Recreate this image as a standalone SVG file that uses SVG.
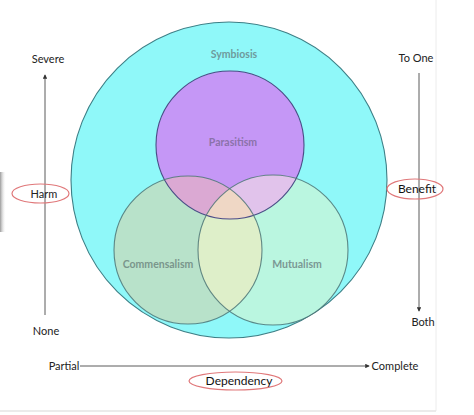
<svg xmlns="http://www.w3.org/2000/svg" width="474" height="415" viewBox="0 0 474 415">
<defs>
<style>
.lbl{font-family:Lato,"Open Sans","Liberation Sans",sans-serif;font-size:11px;fill:#222;text-anchor:middle}
.big{font-family:Lato,"Open Sans","Liberation Sans",sans-serif;font-size:12px;fill:#111;text-anchor:middle}
.cl{font-family:Lato,"Open Sans","Liberation Sans",sans-serif;font-size:10.5px;font-weight:bold;text-anchor:middle}
.ax{stroke:#5a5a5a;stroke-width:1;fill:none}
.oval{fill:none;stroke:#e0787a;stroke-width:1.2}
.cs{fill:none;stroke-width:1.1}
</style>
<linearGradient id="sh" x1="0" y1="0" x2="1" y2="0">
<stop offset="0" stop-color="#9a9a9a"/><stop offset="1" stop-color="#ffffff" stop-opacity="0"/>
</linearGradient>
<marker id="ah" viewBox="0 0 6 6" refX="5" refY="3" markerWidth="4.5" markerHeight="4.5" orient="auto">
<path d="M0,0 L6,3 L0,6 z" fill="#333"/>
</marker>
<clipPath id="cP"><circle cx="230" cy="145" r="74"/></clipPath>
<clipPath id="cC"><circle cx="188" cy="250" r="74"/></clipPath>
<clipPath id="cM"><circle cx="273" cy="250" r="75"/></clipPath>
</defs>
<rect width="474" height="415" fill="#ffffff"/>
<rect x="0" y="172" width="6" height="60" fill="url(#sh)"/>
<line x1="436" y1="0" x2="436" y2="411" stroke="#ececec" stroke-width="1"/>
<line x1="0" y1="411" x2="436" y2="411" stroke="#e4e4e4" stroke-width="1.5"/>

<g id="symbiosis">
<circle cx="229" cy="180" r="158" fill="#8ff8f9" stroke="#3d7f86" stroke-width="1.1"/>
<text class="cl" x="234" y="58" fill="#6e9a9c">Symbiosis</text>
</g>
<g id="parasitism">
<circle cx="230" cy="145" r="74" fill="#c597f6"/>
</g>
<g id="commensalism">
<circle cx="188" cy="250" r="74" fill="#b8e2ca"/>
</g>
<g id="mutualism">
<circle cx="273" cy="250" r="75" fill="#baf6e0"/>
</g>
<g id="overlaps">
<g clip-path="url(#cC)"><circle cx="273" cy="250" r="75" fill="#deefc9"/></g>
<g clip-path="url(#cP)"><circle cx="188" cy="250" r="74" fill="#dba9d3"/></g>
<g clip-path="url(#cP)"><circle cx="273" cy="250" r="75" fill="#e1c3eb"/></g>
<g clip-path="url(#cP)"><g clip-path="url(#cC)"><circle cx="273" cy="250" r="75" fill="#efd7c5"/></g></g>
</g>
<g id="outlines">
<circle class="cs" cx="230" cy="145" r="74" stroke="#4b4c86"/>
<circle class="cs" cx="188" cy="250" r="74" stroke="#4f7474" stroke-opacity="0.85"/>
<circle class="cs" cx="273" cy="250" r="75" stroke="#4f7474" stroke-opacity="0.85"/>
</g>
<text class="cl" x="233" y="146" fill="#8b72aa">Parasitism</text>
<text class="cl" x="158" y="268" fill="#7a968c">Commensalism</text>
<text class="cl" x="297" y="268" fill="#7a9894">Mutualism</text>

<g id="connectors">
<line class="ax" x1="45" y1="315" x2="45" y2="75" marker-end="url(#ah)"/>
<line class="ax" x1="419" y1="73" x2="419" y2="311" marker-end="url(#ah)"/>
<line class="ax" x1="80" y1="366" x2="369" y2="366" marker-end="url(#ah)"/>
</g>

<g id="severe"><text class="lbl" x="48" y="63">Severe</text></g>
<g id="none"><text class="lbl" x="46" y="335">None</text></g>
<g id="toone"><text class="lbl" x="416" y="62">To One</text></g>
<g id="both"><text class="lbl" x="423" y="326">Both</text></g>
<g id="partial"><text class="lbl" x="64" y="370">Partial</text></g>
<g id="complete"><text class="lbl" x="395" y="370">Complete</text></g>
<g id="harm">
<ellipse class="oval" cx="40.5" cy="193.5" rx="28.5" ry="9.5"/>
<text class="lbl" x="44" y="197.5">Harm</text>
</g>
<g id="benefit">
<ellipse class="oval" cx="415" cy="189" rx="28" ry="10"/>
<text class="big" x="417" y="193">Benefit</text>
</g>
<g id="dependency">
<ellipse class="oval" cx="235.5" cy="381" rx="46.5" ry="9"/>
<text class="big" x="239" y="385">Dependency</text>
</g>
</svg>
